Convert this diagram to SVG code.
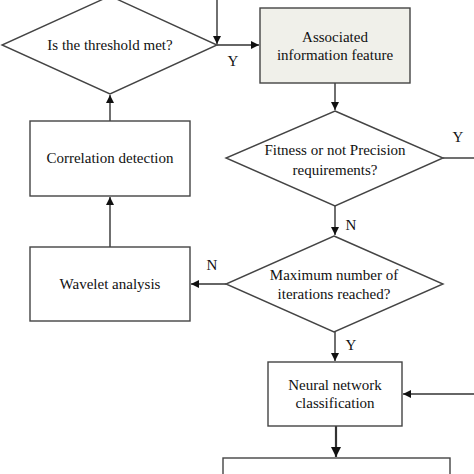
<svg xmlns="http://www.w3.org/2000/svg" width="474" height="474" viewBox="0 0 474 474">
<defs>
<marker id="ah" viewBox="0 0 10 10" refX="10" refY="5" markerWidth="8" markerHeight="8" markerUnits="userSpaceOnUse" orient="auto"><path d="M0,0 L10,5 L0,10 Z" fill="#111"/></marker>
<marker id="ahb" viewBox="0 0 10 10" refX="10" refY="5" markerWidth="10" markerHeight="10" markerUnits="userSpaceOnUse" orient="auto"><path d="M0,0 L10,5 L0,10 Z" fill="#111"/></marker>
</defs>
<style>
.s{fill:#fff;stroke:#444;stroke-width:1.4}
.g{fill:#f0f0ea;stroke:#444;stroke-width:1.4}
.c{fill:none;stroke:#333;stroke-width:1.4}
.t{font-family:"Liberation Serif","Times New Roman",serif;font-size:15px;fill:#111;text-anchor:middle}
</style>
<rect width="474" height="474" fill="#fff"/>
<g id="connectors">
<path class="c" d="M217,0 V44" marker-end="url(#ah)"/>
<path class="c" d="M217,45 H259" marker-end="url(#ah)"/>
<path class="c" d="M335,83 V110" marker-end="url(#ah)"/>
<path class="c" d="M443,158 H474"/>
<path class="c" d="M335,206 V235" marker-end="url(#ah)"/>
<path class="c" d="M226,284 H191" marker-end="url(#ah)"/>
<path class="c" d="M110,247 V197" marker-end="url(#ah)"/>
<path class="c" d="M110,121 V95" marker-end="url(#ah)"/>
<path class="c" d="M335,332 V361" marker-end="url(#ah)"/>
<path class="c" d="M474,394 H403" marker-end="url(#ah)"/>
<path class="c" style="stroke-width:2.2" d="M336,426 V457" marker-end="url(#ahb)"/>
<text class="t" x="233" y="66">Y</text>
<text class="t" x="458" y="142">Y</text>
<text class="t" x="351" y="230">N</text>
<text class="t" x="212" y="270">N</text>
<text class="t" x="351" y="350">Y</text>
</g>
<g id="threshold">
<polygon class="s" points="110,-4 217,45 110,94 2,45"/>
<text class="t" x="110" y="50">Is the threshold met?</text>
</g>
<g id="associated">
<rect class="g" x="260" y="8" width="150" height="75"/>
<text class="t" x="335" y="42">Associated</text>
<text class="t" x="335" y="60">information feature</text>
</g>
<g id="fitness">
<polygon class="s" points="335,111 443,158 335,206 226,158"/>
<text class="t" x="335" y="155">Fitness or not Precision</text>
<text class="t" x="335" y="175">requirements?</text>
</g>
<g id="correlation">
<rect class="s" x="30" y="121" width="160" height="75"/>
<text class="t" x="110" y="163">Correlation detection</text>
</g>
<g id="wavelet">
<rect class="s" x="30" y="247" width="160" height="74"/>
<text class="t" x="110" y="289">Wavelet analysis</text>
</g>
<g id="maxiter">
<polygon class="s" points="334,236 443,284 334,332 226,284"/>
<text class="t" x="334" y="280">Maximum number of</text>
<text class="t" x="334" y="299">iterations reached?</text>
</g>
<g id="neural">
<rect class="s" x="268" y="362" width="134" height="64"/>
<text class="t" x="335" y="390">Neural network</text>
<text class="t" x="335" y="408">classification</text>
</g>
<g id="bottom">
<rect class="s" x="223" y="458" width="227" height="30"/>
</g>
</svg>
